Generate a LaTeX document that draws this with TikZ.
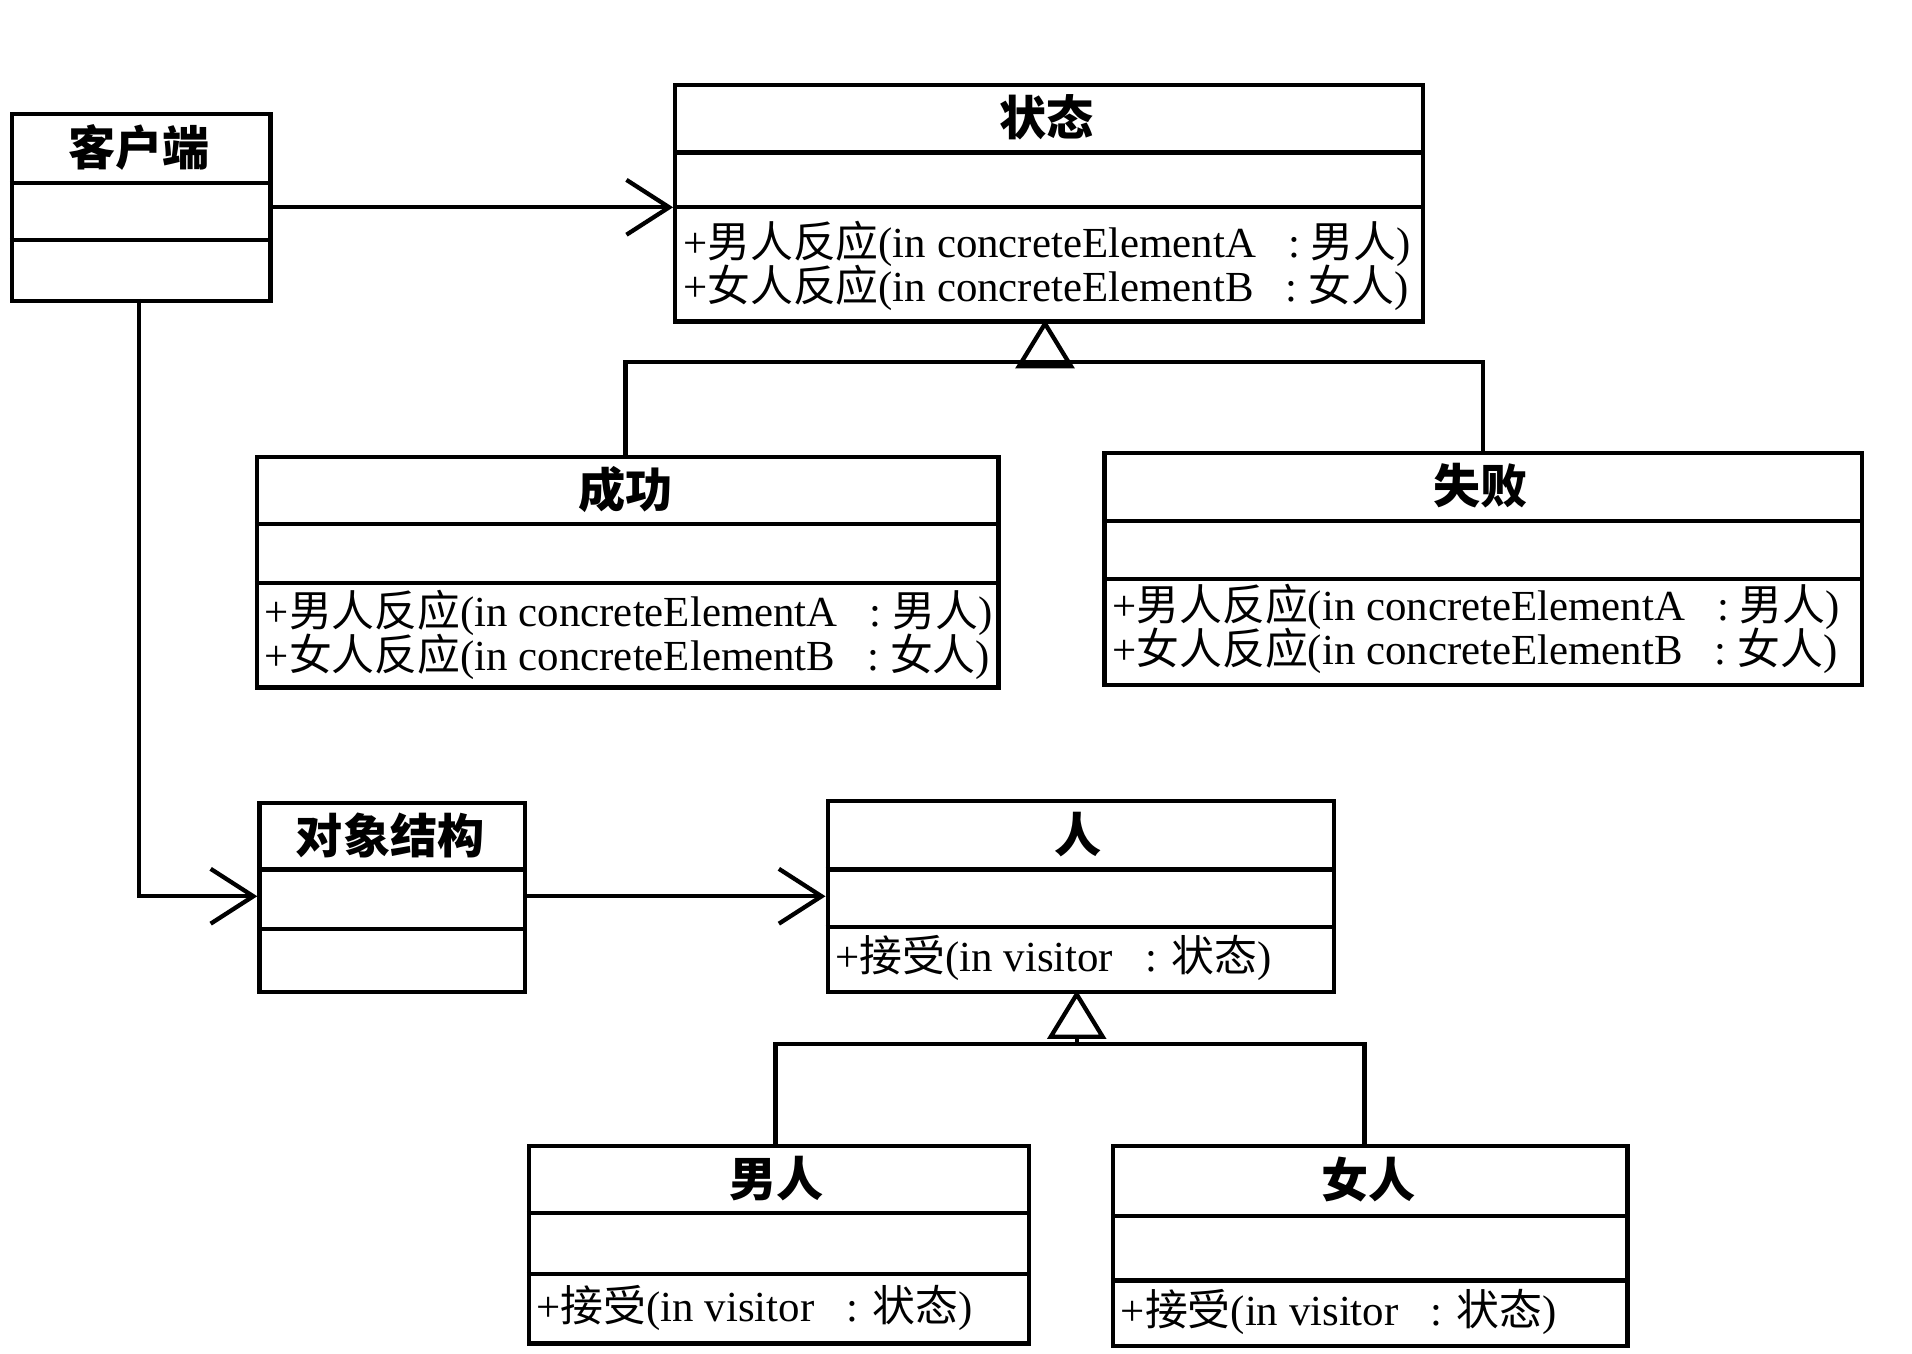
\documentclass[tikz,border=0pt]{standalone}
\usepackage{fontspec}
\setmainfont{Liberation Serif}
\newfontfamily\cjk{Noto Sans CJK SC}
\usetikzlibrary{arrows.meta}
\tikzset{
 cls/.style={draw,line width=1pt,anchor=north west,inner sep=0pt},
 ttl/.style={font=\cjk\bfseries\fontsize{11}{13}\selectfont},
 op/.style={anchor=west,font=\fontsize{10}{12}\selectfont,inner sep=1pt},
 ln/.style={line width=1pt},
 assoc/.style={ln,-{Straight Barb[length=3.5mm,width=4.5mm,line width=1pt]}},
 inh/.style={ln,-{Triangle[open,length=4mm,width=4.8mm,line width=1pt]}}
}
\newcommand{\C}[1]{{\cjk #1}}
\newcommand{\umlbox}[8]{% name x1 y1 x2 y2 l1 l2 title
 \node[cls,minimum width={(#4-#2)*0.1mm},minimum height={(#5-#3)*0.1mm}] (#1) at (#2,#3) {};
 \draw[ln] (#2,#6) -- (#4,#6);
 \draw[ln] (#2,#7) -- (#4,#7);
 \node[ttl] (#1t) at ({(#2+#4)/2},{(#3+#6)/2}) {#8};
}
\begin{document}
\begin{tikzpicture}[x=0.1mm,y=-0.1mm]
\useasboundingbox (0,0) rectangle (1568,1110);
\umlbox{cl}{8}{92}{220}{245}{150}{197}{客户端}
\umlbox{st}{552}{68}{1165}{262}{125}{170}{\itshape 状态}
\umlbox{cg}{209}{373}{817}{562}{430}{478}{成功}
\umlbox{sb}{904}{370}{1525}{560}{427}{475}{失败}
\umlbox{ds}{211}{657}{429}{812}{713}{762}{对象结构}
\umlbox{rn}{677}{655}{1092}{812}{713}{760}{\itshape 人}
\umlbox{nr}{432}{938}{842}{1100}{995}{1045}{男人}
\umlbox{nv}{911}{938}{1333}{1102}{997}{1050}{女人}
% operations
\node[op] (o1) at (556,200) {+\C{男人反应}(in concreteElementA\ \ \ : \C{男人})};
\node[op] (o2) at (556,236) {+\C{女人反应}(in concreteElementB\ \ \ : \C{女人})};
\node[op] (o3) at (213,503) {+\C{男人反应}(in concreteElementA\ \ \ : \C{男人})};
\node[op] (o4) at (213,539) {+\C{女人反应}(in concreteElementB\ \ \ : \C{女人})};
\node[op] (o5) at (908,498) {+\C{男人反应}(in concreteElementA\ \ \ : \C{男人})};
\node[op] (o6) at (908,534) {+\C{女人反应}(in concreteElementB\ \ \ : \C{女人})};
\node[op] (o7) at (681,786) {+\C{接受}(in visitor\ \ \ : \C{状态})};
\node[op] (o8) at (436,1073) {+\C{接受}(in visitor\ \ \ : \C{状态})};
\node[op] (o9) at (915,1076) {+\C{接受}(in visitor\ \ \ : \C{状态})};
% associations
\coordinate (a1) at (220,170);
\coordinate (a2) at (552,170);
\draw[assoc] (a1) -- (a2);
\coordinate (b1) at (114,245);
\coordinate (b2) at (211,735);
\draw[assoc] (b1) |- (b2);
\coordinate (c1) at (429,735);
\coordinate (c2) at (677,735);
\draw[assoc] (c1) -- (c2);
% inheritance
\coordinate (j1) at (857,297);
\coordinate (t1) at (857,262);
\draw[inh] (j1) -- (t1);
\coordinate (cgt) at (513,373);
\coordinate (sbt) at (1216,370);
\draw[ln] (cgt) |- (j1) -| (sbt);
\coordinate (j2) at (883,856);
\coordinate (t2) at (883,812);
\draw[inh] (j2) -- (t2);
\coordinate (nrt) at (636,938);
\coordinate (nvt) at (1119,938);
\draw[ln] (nrt) |- (j2) -| (nvt);
\end{tikzpicture}
\end{document}
